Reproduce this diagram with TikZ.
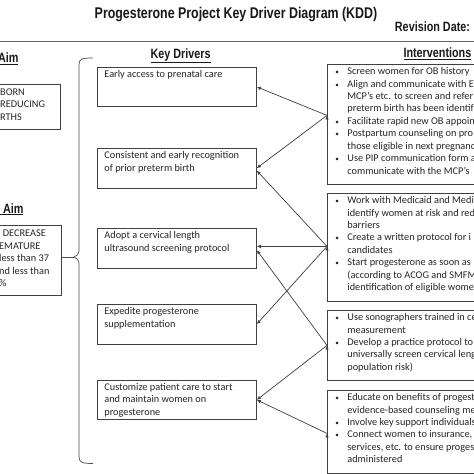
\documentclass[tikz,border=0pt]{standalone}
\usepackage{fontspec}
\usepackage{graphicx}
\setmainfont{Carlito}
\newfontfamily\headfont[FakeStretch=0.8]{Liberation Sans}
\usetikzlibrary{arrows.meta}
\newcommand{\bul}{\makebox[12pt][l]{\scalebox{0.7}{\textbullet}}}
\newcommand{\cnt}{\hspace*{12pt}}

\begin{document}
\begin{tikzpicture}[x=1pt,y=-1pt,
    box/.style={draw=black!75,line width=0.8pt,anchor=north west,inner xsep=7pt,inner ysep=3pt,
      text=black!85,font=\fontsize{10.3}{12.45}\selectfont},
    ibox/.style={box,inner xsep=8pt},
    head/.style={anchor=base west,text=black!90,font=\headfont\bfseries\fontsize{13.5}{16}\selectfont},
    arr/.style={-{Latex[length=4pt,width=3.5pt]},draw=black!75,line width=0.7pt},
    brc/.style={draw=black!70,line width=0.7pt}]
  \clip (0,0) rectangle (474,474);
  \fill[white] (0,0) rectangle (474,474);
  % title and header
  \node[anchor=base,text=black!90,font=\headfont\bfseries\fontsize{15.5}{18}\selectfont] (ttl) at (236,18)
    {Progesterone Project Key Driver Diagram (KDD)};
  \node[head,anchor=base east] (rev) at (473.5,31.7) {Revision Date:};
  \draw[line width=1.3pt,black!60] (0,41.7) -- (474,41.7);
  \node[head,anchor=base east] (aim1) at (22,62.5) {\underline{Aim}};
  \node[head,anchor=base east] (aim2) at (27,213) {\underline{T Aim}};
  \node[head] (kdh) at (147,58) {\underline{Key Drivers}};
  \node[head] (ivh) at (400,57.3) {\underline{Interventions}};
  % aims
  \node[draw=black!75,line width=0.8pt,anchor=north east,minimum width=80pt,minimum height=45pt] (a1) at (61,84) {};
  \node[anchor=north west,align=left,inner sep=0pt,text=black!85,font=\fontsize{10.3}{12.6}\selectfont] (a1t) at (0,88.5)
    {BORN\\REDUCING\\RTHS};
  \node[draw=black!75,line width=0.8pt,anchor=north east,minimum width=80pt,minimum height=70pt] (a2) at (62,225) {};
  \node[anchor=north west,align=left,inner sep=0pt,text=black!85,font=\fontsize{10.3}{12.5}\selectfont] (a2t) at (-1,230)
    {\hspace{3.7pt}DECREASE\\EMATURE\\less than 37\\nd less than\\\%};
  \coordinate (bt) at (74,257);
  \draw[brc] (93,58) .. controls (81,58) and (79,59) .. (79,65) -- (79,251)
    .. controls (79,254) and (77,256) .. (bt) .. controls (77,258) and (79,260) .. (79,263)
    -- (79,456) .. controls (79,462) and (81,463.5) .. (93,463.5);
  \draw[brc] (a2.east |- bt) -- (bt);
  % key drivers
  \node[box] (d1) at (97,67) {\parbox[c][33pt][t]{145pt}{Early access to prenatal care}};
  \node[box] (d2) at (97,148) {\parbox[c][33.5pt][t]{145pt}{Consistent and early recognition\\of prior preterm birth}};
  \node[box] (d3) at (97,228) {\parbox[c][33.5pt][t]{145pt}{Adopt a cervical length\\ultrasound screening protocol}};
  \node[box] (d4) at (97,304) {\parbox[c][33.5pt][t]{145pt}{Expedite progesterone\\supplementation}};
  \node[box] (d5) at (97,380) {\parbox[c][33pt][t]{145pt}{Customize patient care to start\\and maintain women on\\progesterone}};
  % interventions
  \node[ibox] (i1) at (327,64) {\parbox[c][114pt][t]{200pt}{\bul Screen women for OB history\\\bul Align and communicate with E\\
    \cnt MCP’s etc. to screen and refer\\\cnt preterm birth has been identif\\\bul Facilitate rapid new OB appoin\\
    \bul Postpartum counseling on pro\\\cnt those eligible in next pregnanc\\\bul Use PIP communication form a\\
    \cnt communicate with the MCP’s}};
  \node[ibox] (i2) at (327,193) {\parbox[c][102pt][t]{200pt}{\bul Work with Medicaid and Medi\\\cnt identify women at risk and red\\
    \cnt barriers\\\bul Create a written protocol for i\\\cnt candidates\\\bul Start progesterone as soon as\\
    \cnt (according to ACOG and SMFM\\\cnt identification of eligible wome}};
  \node[ibox] (i3) at (327,310) {\parbox[c][64pt][t]{200pt}{\bul Use sonographers trained in ce\\\cnt measurement\\
    \bul Develop a practice protocol to\\\cnt universally screen cervical leng\\\cnt population risk)}};
  \node[ibox] (i4) at (327,390) {\parbox[c][77pt][t]{200pt}{\bul Educate on benefits of progest\\\cnt evidence-based counseling me\\
    \bul Involve key support individuals\\\bul Connect women to insurance,\\\cnt services, etc. to ensure proges\\
    \cnt administered}};
  \coordinate (s1) at ([yshift=9pt]i1.west);
  \coordinate (s2) at ([yshift=1pt]i2.west);
  \coordinate (s3) at (i3.west);
  \coordinate (s4) at ([yshift=-1.5pt]i4.west);
  \path[arr] (s1) edge (d1.east) edge (d2.east);
  \path[arr] (s2) edge ([yshift=-2.5pt]d2.east) edge (d3.east |- s2) edge (d4.east);
  \path[arr] (s3) edge ([yshift=-2pt]d3.east) edge (d5.east);
  \path[arr] (s4) edge (d5.east);
\end{tikzpicture}
\end{document}
